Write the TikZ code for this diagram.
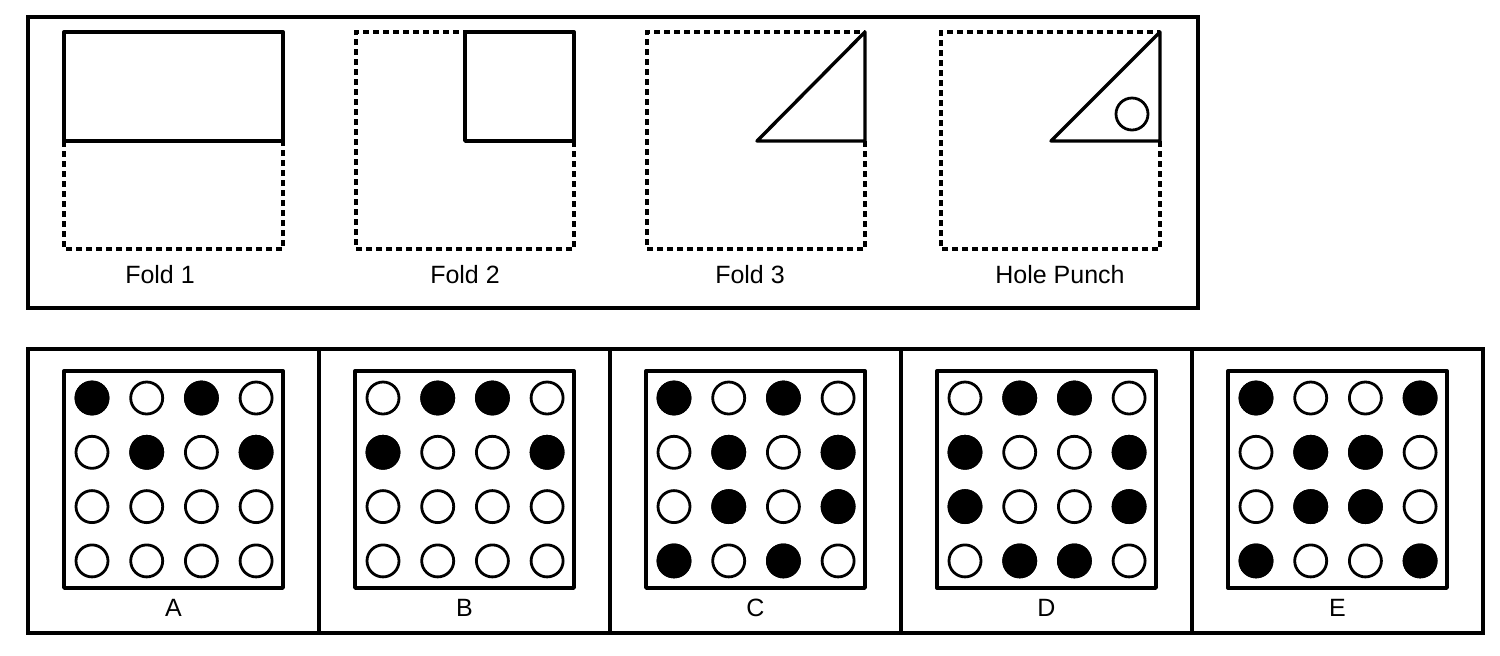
\documentclass[tikz,border=0pt]{standalone}
\usepackage{fontspec}
\setmainfont{Liberation Sans}
\usetikzlibrary{positioning}

\begin{document}
\begin{tikzpicture}[x=0.5pt, y=-0.5pt,
        frame/.style={draw=black, line width=1.6pt},
        sheet/.style={draw=black, line width=1.7pt, line join=round},
        unfolded/.style={draw=black, line width=1.7pt, dash pattern=on 3pt off 2pt},
        hole/.style={draw=black, line width=1.4pt},
        punched/.style={draw=black, fill=black, line width=1.4pt},
        caption/.style={font=\fontsize{12.5}{15}\selectfont, inner sep=0pt}
    ]
    \useasboundingbox (0,0) rectangle (1500,655);

    % folding steps
    \draw[frame] (28,17) rectangle (1198,308);

    \draw[unfolded] (64,141) -- (64,249) -- (283,249) -- (283,141);
    \draw[sheet] (64,32) rectangle (283,141);
    \node[caption] (fold1) at (160,275) {Fold 1};

    \draw[unfolded] (574,141) -- (574,249) -- (356,249) -- (356,32) -- (465,32);
    \draw[sheet] (465,32) rectangle (574,141);
    \node[caption] (fold2) at (465,275) {Fold 2};

    \draw[unfolded] (865,141) -- (865,249) -- (647,249) -- (647,32) -- (865,32);
    \draw[sheet] (757,141) -- (865,32) -- (865,141) -- cycle;
    \node[caption] (fold3) at (750,275) {Fold 3};

    \draw[unfolded] (1160,141) -- (1160,249) -- (941,249) -- (941,32) -- (1160,32);
    \draw[sheet] (1051,141) -- (1160,32) -- (1160,141) -- cycle;
    \draw[hole] (1132,114) circle (16);
    \node[caption] (punch) at (1060,275) {Hole Punch};

    % answer choices
    \draw[frame] (28,349) rectangle (1483,633);
    \foreach \k in {1,...,4}
        \draw[frame] (28+291*\k,349) -- (28+291*\k,633);

    \foreach \lab/\blk [count=\k from 0] in {
            A/{1/1,3/1,2/2,4/2},
            B/{2/1,3/1,1/2,4/2},
            C/{1/1,3/1,2/2,4/2,2/3,4/3,1/4,3/4},
            D/{2/1,3/1,1/2,4/2,1/3,4/3,2/4,3/4},
            E/{1/1,4/1,2/2,3/2,2/3,3/3,1/4,4/4}} {
        \begin{scope}[xshift=291*\k*0.5pt]
            \draw[sheet] (64,371) rectangle (283,588);
            \foreach \c in {1,...,4}
                \foreach \r in {1,...,4}
                    \draw[hole] (92+54.7*\c-54.7,398+54.3*\r-54.3) circle (16);
            \foreach \c/\r in \blk
                \draw[punched] (92+54.7*\c-54.7,398+54.3*\r-54.3) circle (16);
            \node[caption] (opt\lab) at (173.5,608) {\lab};
        \end{scope}
    }

\end{tikzpicture}
\end{document}
